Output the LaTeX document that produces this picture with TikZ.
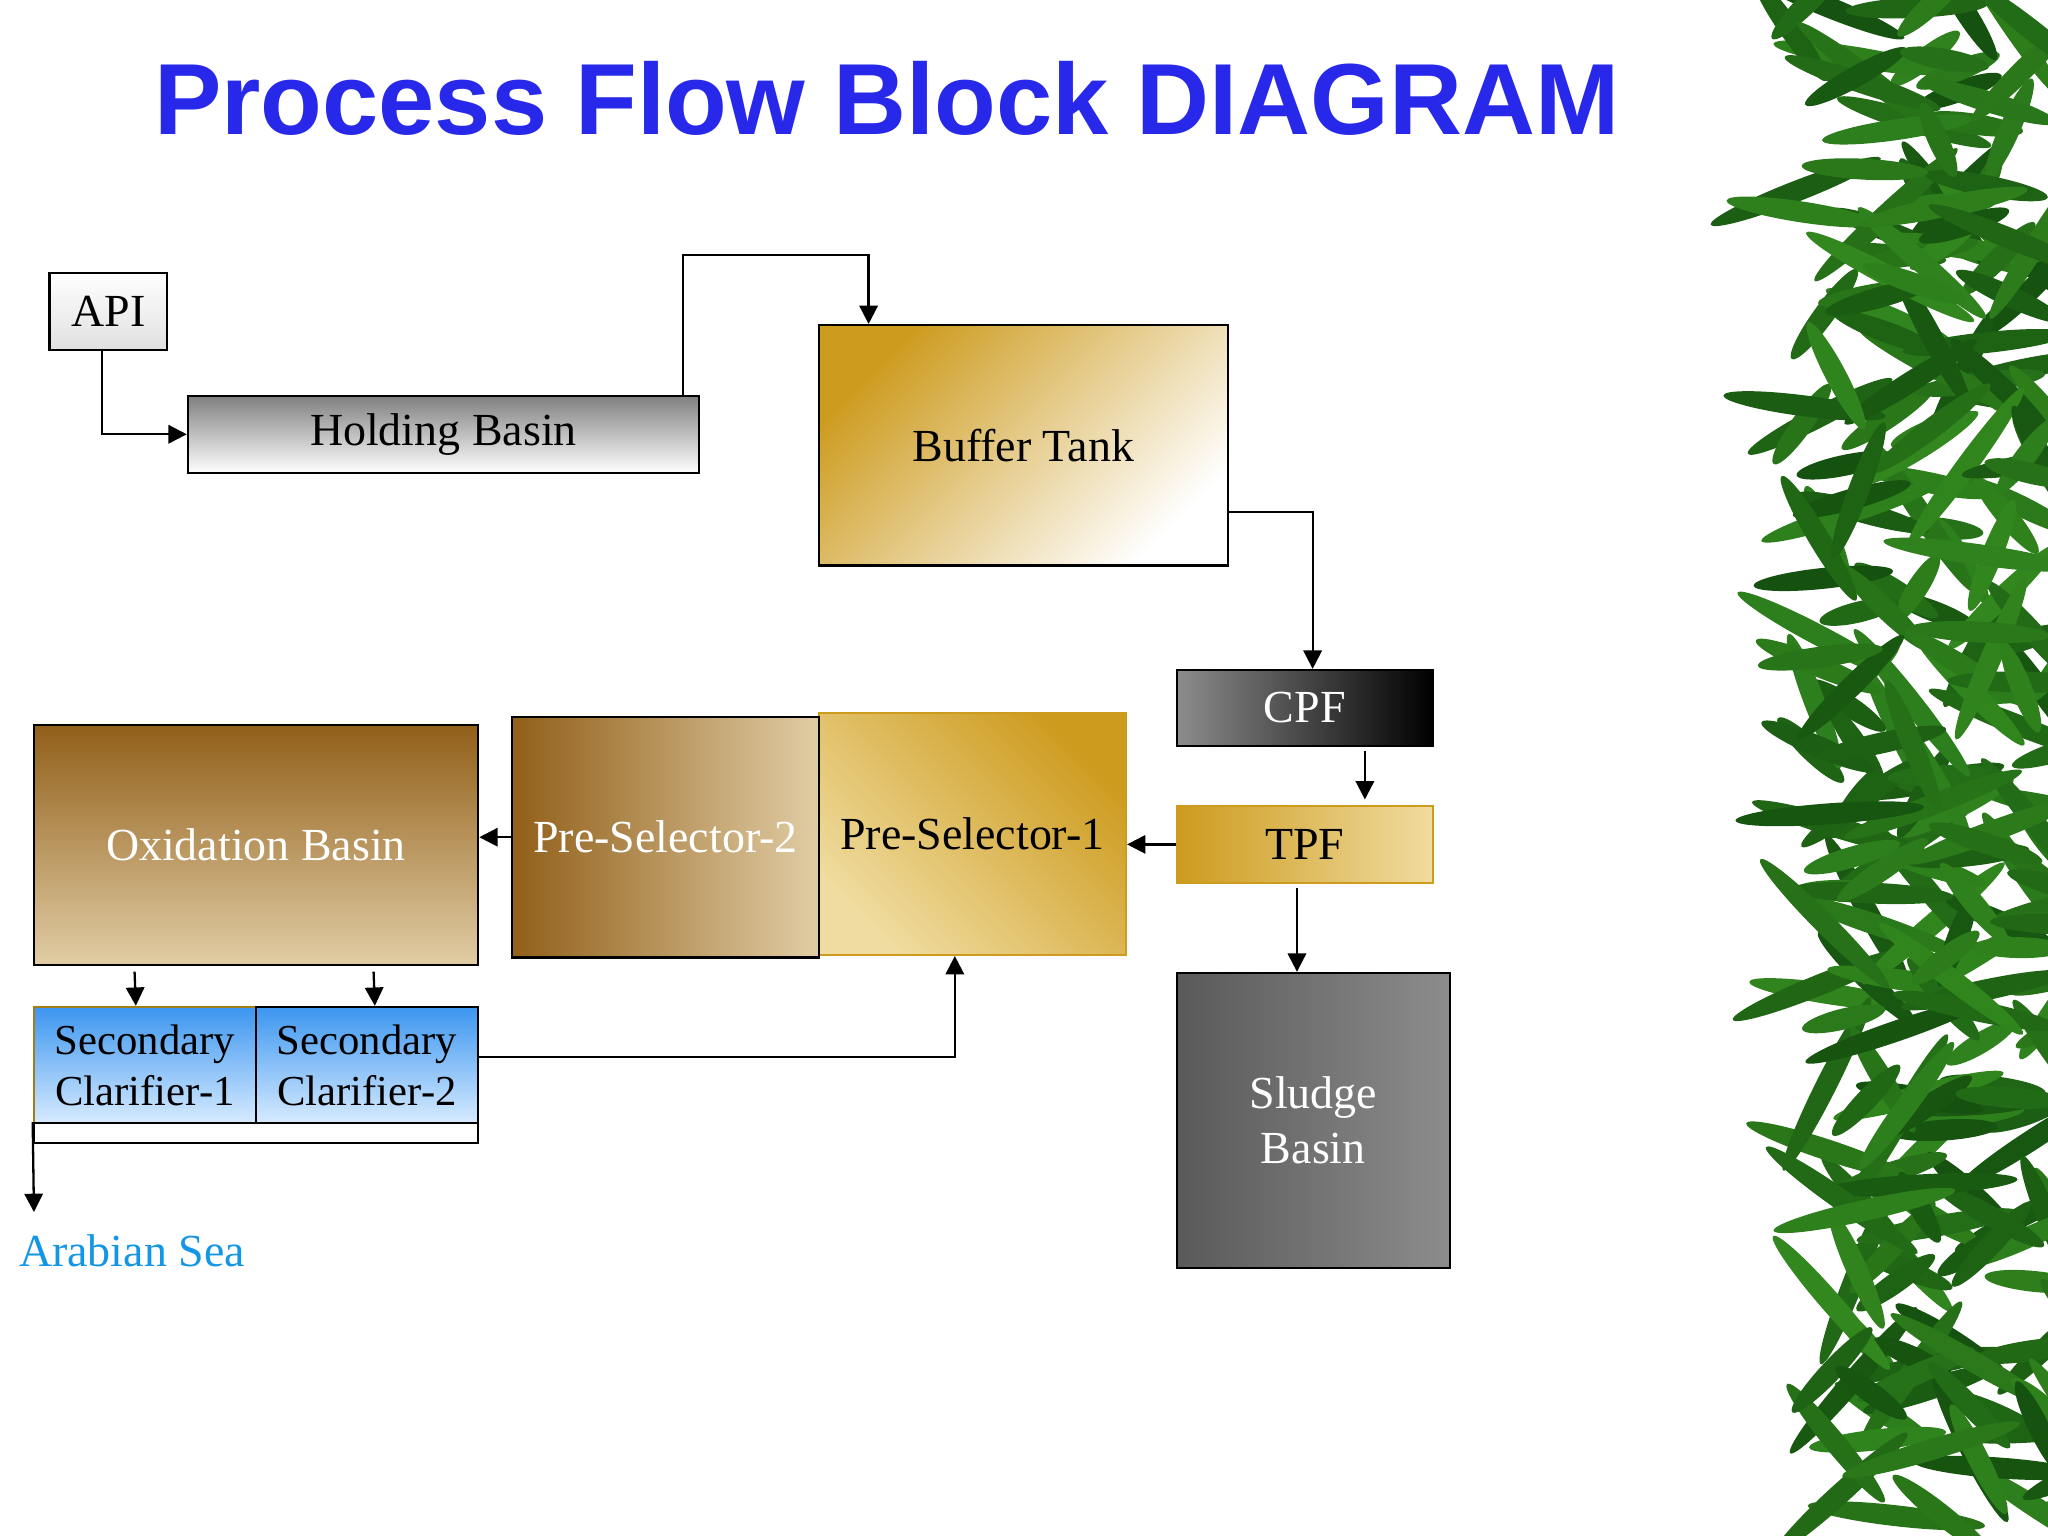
\documentclass[tikz,border=0pt]{standalone}
\usepackage{fontspec}
\setmainfont{Liberation Serif}
\newfontfamily\titlefont{Liberation Sans}
\usetikzlibrary{calc,arrows.meta}
\definecolor{gold}{RGB}{205,155,30}
\definecolor{lgold}{RGB}{240,220,160}
\definecolor{brownA}{RGB}{145,95,25}
\definecolor{tan}{RGB}{225,205,165}
\definecolor{blueA}{RGB}{60,150,240}
\definecolor{blueB}{RGB}{215,235,255}
\definecolor{titleblue}{RGB}{40,40,235}
\definecolor{sea}{RGB}{20,150,230}
\definecolor{leaf}{RGB}{50,135,30}
\definecolor{leafd}{RGB}{20,80,15}
\tikzset{
 box/.style={draw=black,line width=0.5pt,inner sep=0pt,align=center,font=\fontsize{10}{12}\selectfont},
 arr/.style={draw=black,line width=0.5pt,-{Triangle[length=4pt,width=4pt]}},
}
\begin{document}
\begin{tikzpicture}[x=0.01cm,y=-0.01cm]
\useasboundingbox (0,0) rectangle (1568,1176);
% bamboo decoration
\pgfmathsetseed{7}
\foreach \i in {1,...,260}{
  \pgfmathsetmacro{\yy}{rnd*1176}
  \pgfmathsetmacro{\xx}{1360+rnd*200+0.04*\yy}
  \pgfmathsetmacro{\aa}{-70+rnd*140+180*(rnd>0.5)}
  \pgfmathsetmacro{\ll}{30+rnd*45}
  \pgfmathsetmacro{\cc}{rnd*100}
  \fill[leaf!\cc!leafd,rotate around={\aa:(\xx,\yy)}] (\xx,\yy) ellipse ({\ll} and 8);
}
\node[font=\titlefont\bfseries\fontsize{22}{26}\selectfont,text=titleblue] (title) at (679,75) {Process Flow Block DIAGRAM};
\node[box,minimum width=9mm,minimum height=5.9mm,top color=white,bottom color=black!12] (api) at (83,238.5) {API};
\node[box,minimum width=39.1mm,minimum height=5.9mm,top color=black!50,bottom color=white] (hold) at (339.5,332.5) {Holding Basin};
\node[box,minimum width=31.3mm,minimum height=18.4mm,shading=axis,left color=gold,right color=white,shading angle=45] (buf) at (783.5,341) {Buffer Tank};
\node[box,minimum width=19.6mm,minimum height=5.8mm,left color=black!45,right color=black,text=white] (cpf) at (999,542) {CPF};
\node[box,draw=gold,minimum width=19.6mm,minimum height=5.9mm,left color=gold,right color=lgold] (tpf) at (999,646.5) {TPF};
\node[box,minimum width=20.9mm,minimum height=22.6mm,left color=black!65,right color=black!45,text=white] (sludge) at (1005.5,858) {Sludge\\Basin};
\node[box,draw=gold,minimum width=23.5mm,minimum height=18.5mm,shading=axis,left color=gold,right color=lgold,shading angle=-45] (pre1) at (744.5,638.5) {Pre-Selector-1};
\node[box,minimum width=23.5mm,minimum height=18.4mm,left color=brownA,right color=tan,text=white] (pre2) at (509.5,641) {Pre-Selector-2};
\node[box,minimum width=34mm,minimum height=18.4mm,top color=brownA,bottom color=tan,text=white] (ox) at (196,647) {Oxidation Basin};
\node[box,draw=gold!80!black,minimum width=17mm,minimum height=8.9mm,top color=blueA,bottom color=blueB,font=\fontsize{9.3}{11}\selectfont] (sc1) at (111,815.5) {Secondary\\Clarifier-1};
\node[box,minimum width=17mm,minimum height=8.9mm,top color=blueA,bottom color=blueB,font=\fontsize{9.3}{11}\selectfont] (sc2) at (281,815.5) {Secondary\\Clarifier-2};
\node[box,fill=white,minimum width=34mm,minimum height=1.5mm] (bar) at (196,867.5) {};
\coordinate (seaend) at (26,928);
\node[font=\fontsize{10}{12}\selectfont,text=sea] (sea) at (101,958) {Arabian Sea};
% connectors
\draw[arr] ($(api.south)+(-5,0)$) |- (hold.west);
\draw[arr] ($(hold.north east)+(-13,0)$) -- ++(0,-107) -| ($(buf.north west)+(39,0)$);
\draw[arr] ($(buf.east)+(0,51)$) -| ($(cpf.north)+(6,0)$);
\draw[arr] ($(cpf.south)+(46,3)$) -- ($(tpf.north)+(46,-4)$);
\draw[arr] (tpf.west) -- (pre1.east |- tpf.west);
\draw[arr] ($(tpf.south)+(-6,3)$) -- (sludge.north -| 993,0);
\draw[arr] (pre2.west) -- (ox.east |- pre2.west);
\draw[arr] ($(ox.south west)+(78,4)$) -- (sc1.north -| 104,0);
\draw[arr] ($(ox.south west)+(261,4)$) -- (sc2.north -| 287,0);
\draw[arr] ($(sc2.east)+(0,-6)$) -| ($(pre1.south west)+(105,0)$);
\draw[arr] (bar.north west) -- (seaend);
\end{tikzpicture}
\end{document}
